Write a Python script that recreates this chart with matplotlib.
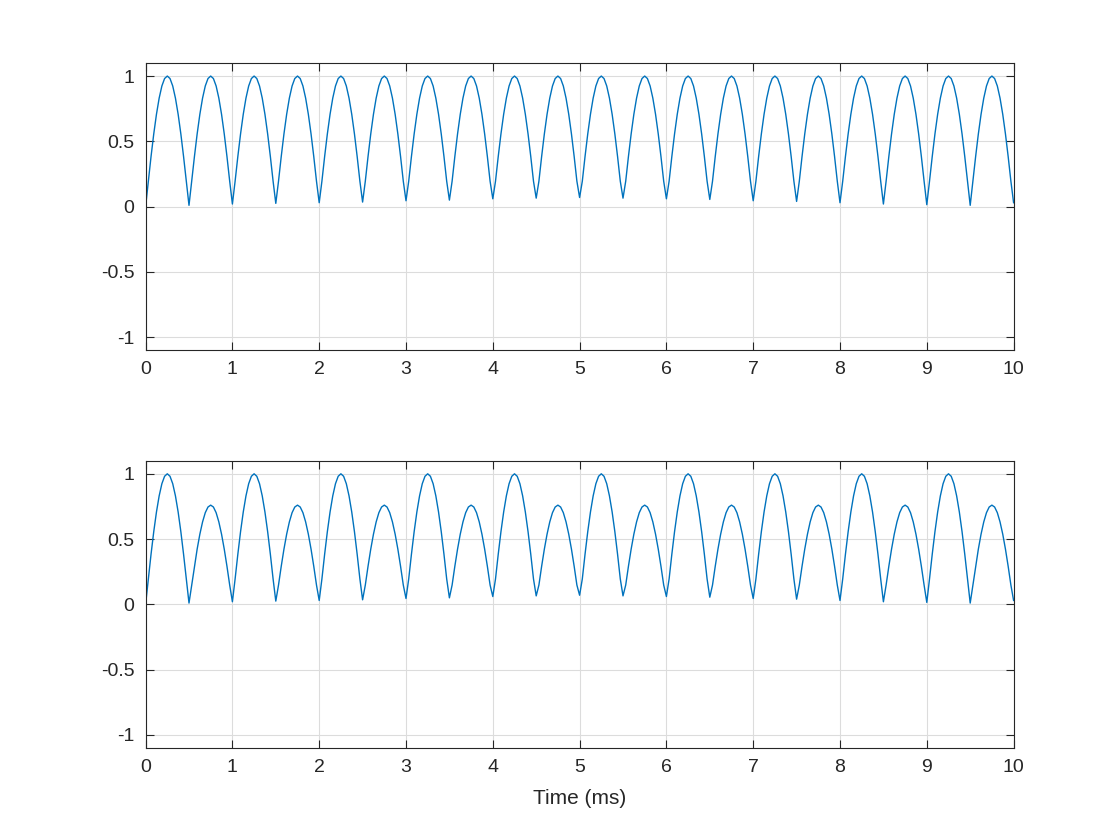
import numpy as np
import matplotlib
matplotlib.use("Agg")
import matplotlib.pyplot as plt

plt.rcParams['font.family'] = ['Liberation Sans', 'DejaVu Sans']

# half-cycle boundaries (ms) and the lowest value reached at each boundary
bounds = [0, 0.5, 1, 1.5, 2, 2.5, 3, 3.5, 4, 4.5, 5, 5.5, 6, 6.5, 7, 7.5, 8, 8.5, 9, 9.5, 10]
troughs = [0.0, 0.01, 0.02, 0.025, 0.03, 0.035, 0.045, 0.05, 0.06, 0.065, 0.07,
           0.065, 0.06, 0.055, 0.045, 0.04, 0.03, 0.02, 0.015, 0.01, 0.03]

# peak height of every arch
peaks_top = [1.0] * 20
peaks_bot = [1.0, 0.76] * 10

# shape of one arch (relative height across a half cycle)
arch = [0.0, 0.195, 0.383, 0.556, 0.707, 0.831, 0.924, 0.981, 1.0,
        0.981, 0.924, 0.831, 0.707, 0.556, 0.383, 0.195, 0.0]

xticks = list(range(0, 11))
yticks = [-1, -0.5, 0, 0.5, 1]
yticklabels = ['-1', '-0.5', '0', '0.5', '1']
blue = '#0072BD'


def build(peaks):
    xs, ys = [], []
    frac = np.linspace(0, 1, len(arch))
    for i, pk in enumerate(peaks):
        a, b = bounds[i], bounds[i + 1]
        base = np.array(troughs[i]) * (1 - frac) + np.array(troughs[i + 1]) * frac
        y = np.maximum(pk * np.array(arch), base)
        x = a + (b - a) * frac
        if i > 0:
            x, y = x[1:], y[1:]
        xs.extend(x)
        ys.extend(y)
    return xs, ys


fig = plt.figure(figsize=(11.2, 8.4), dpi=100)
ax1 = fig.add_axes([0.130, 0.583, 0.775, 0.342])
ax2 = fig.add_axes([0.130, 0.1095, 0.775, 0.342])

for ax, peaks in [(ax1, peaks_top), (ax2, peaks_bot)]:
    x, y = build(peaks)
    ax.plot(x, y, color=blue, lw=1.0)
    ax.set_xlim(0, 10)
    ax.set_ylim(-1.1, 1.1)
    ax.set_xticks(xticks)
    ax.set_yticks(yticks)
    ax.set_yticklabels(yticklabels)
    ax.grid(True, color='#dcdcdc', lw=0.8)
    ax.set_axisbelow(True)
    ax.tick_params(direction='in', length=6, width=0.8, top=True, right=True,
                   labelsize=14, colors='#262626', pad=8)
    for s in ax.spines.values():
        s.set_color('#262626')
        s.set_linewidth(0.8)

ax2.set_xlabel('Time (ms)', fontsize=15, color='#262626', labelpad=9)

fig.savefig('out.png', dpi=100)
